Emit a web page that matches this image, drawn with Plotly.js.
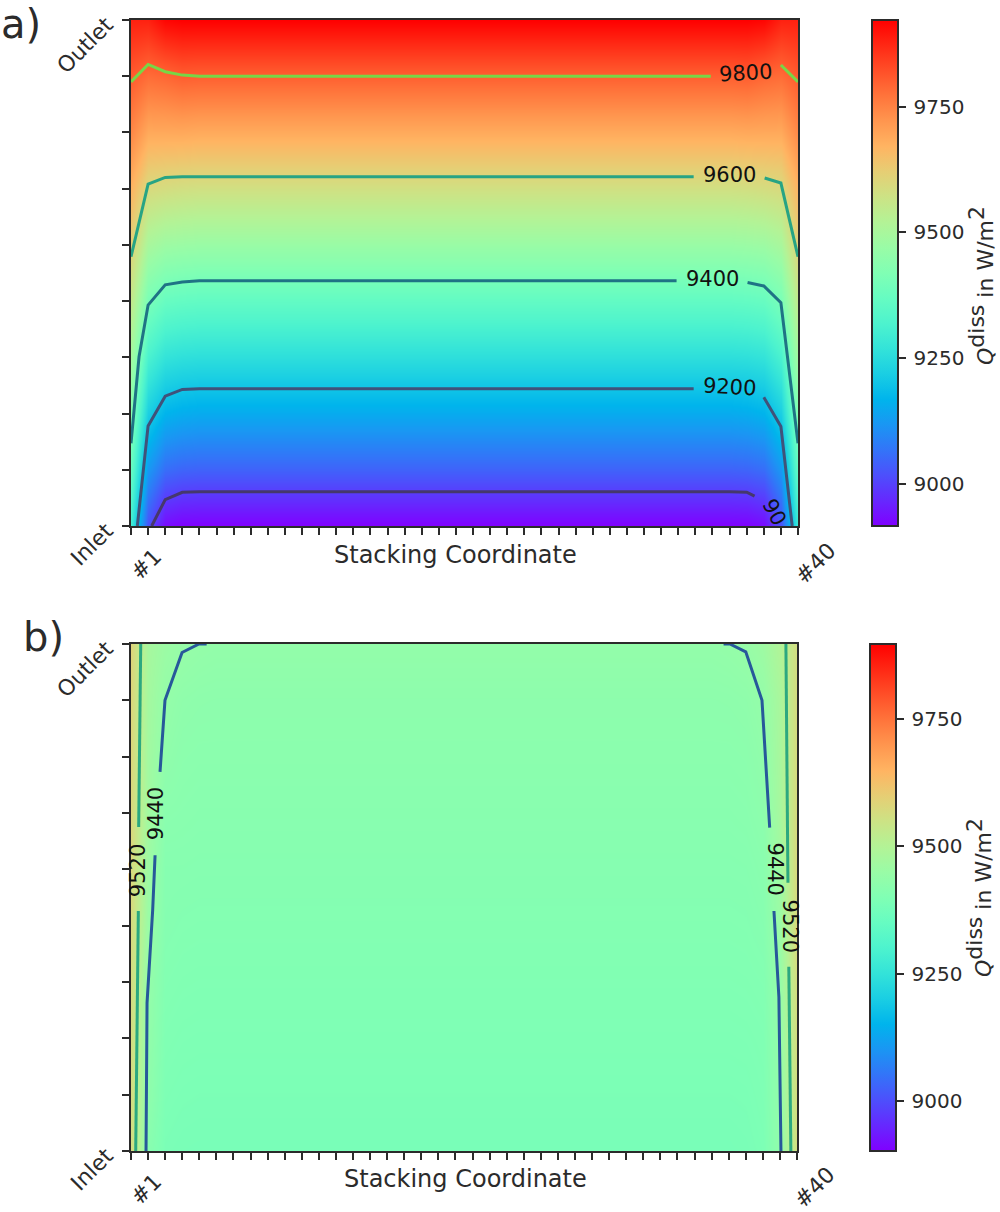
<!DOCTYPE html>
<html>
<head>
<meta charset="utf-8">
<script src="https://cdn.plot.ly/plotly-3.0.1.min.js"></script>
<style>html,body{margin:0;padding:0;background:#fff}#chart{width:1000px;height:1212px}</style>
</head>
<body>
<div id="chart"></div>
<script>
// ---- shared grid ----
const stackColumns = [0,1,2,3,4,5,34,35,36,37,38,39];
const flowRows = [0,1,2,3,4,5,6,7,8,9];
const xMajorTicks = [1];
const xMajorLabels = ["#1"];
const xMinorTicks = [0,2,3,4,5,6,7,8,9,10,11,12,13,14,15,16,17,18,19,20,21,22,23,24,25,26,27,28,29,30,31,32,33,34,35,36,37,38,39];
const yMajorTicks = [0,9];
const yMajorLabels = ["Inlet","Outlet"];
const yMinorTicks = [1,2,3,4,5,6,7,8];
const colorbarTicks = [9000,9250,9500,9750];
const rainbowStops = [
  [0.00,"rgb(128,0,255)"],[0.05,"rgb(102,40,254)"],[0.10,"rgb(77,79,252)"],[0.15,"rgb(51,116,248)"],
  [0.20,"rgb(26,150,243)"],[0.25,"rgb(0,180,236)"],[0.30,"rgb(26,206,227)"],[0.35,"rgb(51,227,217)"],
  [0.40,"rgb(77,243,206)"],[0.45,"rgb(102,252,194)"],[0.50,"rgb(128,255,180)"],[0.55,"rgb(153,252,166)"],
  [0.60,"rgb(179,243,150)"],[0.65,"rgb(204,227,133)"],[0.70,"rgb(230,206,116)"],[0.75,"rgb(255,180,98)"],
  [0.80,"rgb(255,150,79)"],[0.85,"rgb(255,116,59)"],[0.90,"rgb(255,79,40)"],[0.95,"rgb(255,40,20)"],[1.00,"rgb(255,0,0)"]];

// ---- panel a: Q_diss values, one array per row, inlet first ----
const aRow0 = [9295,9020,8930,8918,8917,8917,8917,8917,8918,8930,9020,9295];
const aRow1 = [9370,9122,9058,9046,9043,9043,9043,9043,9046,9058,9122,9370];
const aRow2 = [9431,9220,9167,9156,9152,9152,9152,9152,9156,9167,9220,9431];
const aRow3 = [9491,9315,9270,9261,9258,9258,9258,9258,9261,9270,9315,9491];
const aRow4 = [9552,9407,9372,9365,9362,9362,9362,9362,9365,9372,9407,9552];
const aRow5 = [9613,9500,9478,9473,9470,9470,9470,9470,9473,9478,9500,9613];
const aRow6 = [9671,9592,9585,9580,9577,9577,9577,9577,9580,9585,9592,9671];
const aRow7 = [9743,9690,9690,9691,9688,9688,9688,9688,9691,9690,9690,9743];
const aRow8 = [9806,9782,9790,9802,9800,9800,9800,9800,9802,9790,9782,9806];
const aRow9 = [9880,9880,9915,9922,9922,9922,9922,9922,9922,9915,9880,9880];
const aZRange = [8917,9922];

// ---- panel a: contour lines (null marks the gap at a label) ----
const a9000x = [1.21,2,3,4,35,36,36.46];
const a9000y = [0,0.47,0.6,0.61,0.61,0.6,0.53];
const a9200x = [0.37,1,2,3,4,32.9,null,37,38,38.66];
const a9200y = [0,1.78,2.31,2.43,2.44,2.44,null,2.29,1.77,0];
const a9400x = [0,0.47,1,2,3,4,31.9,null,36.05,37,38,38.4,39];
const a9400y = [1.47,3.01,3.93,4.29,4.34,4.36,4.36,null,4.33,4.27,3.97,3,1.47];
const a9600x = [0,1,2,3,32.9,null,37.05,38,39];
const a9600y = [4.79,6.08,6.2,6.21,6.21,null,6.19,6.1,4.79];
const a9800x = [0,1,2,3,4,33.9,null,38,39];
const a9800y = [7.9,8.21,8.08,8.02,8,8,null,8.2,7.9];
const aLabelText = ["9800","9600","9400","9200","90"];
const aLabelX = [35.95,35,34,35,37.6];
const aLabelY = [8.05,6.24,4.39,2.47,0.25];
const aLabelAngle = [-3,0,0,3,62];

// ---- panel b: Q_diss values, one array per row, inlet first ----
const bRow0 = [9564,9416,9390,9387,9386,9386,9386,9386,9388,9393,9435,9565];
const bRow1 = [9565,9430,9395,9392,9391,9391,9391,9391,9392,9397,9437,9568];
const bRow2 = [9565,9436,9400,9397,9396,9396,9396,9396,9397,9400,9440,9568];
const bRow3 = [9565,9440,9405,9402,9401,9401,9401,9401,9402,9405,9444,9570];
const bRow4 = [9570,9450,9410,9407,9406,9406,9406,9406,9407,9412,9453,9575];
const bRow5 = [9575,9458,9412,9412,9411,9411,9411,9411,9412,9418,9462,9578];
const bRow6 = [9575,9465,9420,9418,9416,9416,9416,9416,9418,9425,9475,9575];
const bRow7 = [9578,9466,9431,9423,9421,9421,9421,9421,9423,9432,9478,9572];
const bRow8 = [9580,9470,9440,9430,9427,9426,9426,9427,9430,9440,9480,9570];
const bRow9 = [9585,9475,9455,9445,9440,9437,9437,9440,9445,9460,9495,9565];
const bZRange = [8901,9898];

// ---- panel b: contour lines ----
const b9440x = [0.88,0.94,1.27,1.41,null,1.7,1.99,2.99,3.98,4.43,null,34.7,35.07,36,36.95,37.4,null,37.65,37.94,38.06];
const b9440y = [0,2.63,4.28,5.25,null,6.73,8,8.85,9,9,null,9,9,8.86,8,5.74,null,4.26,2.73,0];
const b9520x = [0.275,0.43,null,0.45,0.57,null,38.35,38.47,null,38.52,38.64];
const b9520y = [0,4.26,null,5.75,9,null,9,4.76,null,3.27,0];
const bLabelText = ["9440","9520","9440","9520"];
const bLabelX = [1.47,0.42,37.7,38.57];
const bLabelY = [5.98,4.97,5.0,3.99];
const bLabelAngle = [-90,-90,90,90];

// ---- layout constants ----
const W = 1000, H = 1212;
const px = v => v / W;
const py = v => 1 - v / H;
const FONT = "DejaVu Sans, sans-serif";
const INK = "#2b2b2b";
const lineColors = {
  c9000:"#46386c", c9200:"#40527a", c9400:"#1f7385",
  c9600:"#27a484", c9800:"#78d646",
  c9440:"#27589a", c9520:"#2ca880"
};

function heat(rows, zr, xa, ya, cbX, cbY, cbLen){
  return {type:"heatmap", x:stackColumns, y:flowRows, z:rows, zmin:zr[0], zmax:zr[1], zsmooth:"best",
    colorscale:rainbowStops, xaxis:xa, yaxis:ya, hoverinfo:"skip",
    colorbar:{x:px(cbX), xanchor:"left", xpad:0, ypad:0, y:py(cbY), yanchor:"middle", lenmode:"pixels", len:cbLen,
      thicknessmode:"pixels", thickness:26, outlinecolor:INK, outlinewidth:2, ticks:"outside", ticklen:7, tickwidth:2,
      tickcolor:INK, tickvals:colorbarTicks, ticktext:colorbarTicks.map(v=>"\u2009"+v), tickfont:{family:FONT,size:20,color:INK}}};
}
function line(x,y,color,xa,ya){
  return {type:"scatter", mode:"lines", x:x, y:y, xaxis:xa, yaxis:ya, hoverinfo:"skip", showlegend:false,
    connectgaps:false, line:{color:color,width:3,shape:"linear"}};
}
function xAxis(anchor,l,r){
  return {domain:[px(l),px(r)], anchor:anchor, range:[0,39], tickmode:"array", tickvals:xMajorTicks, ticktext:xMajorLabels,
    tickangle:-45, ticklabelshift:7, ticks:"outside", ticklen:7, tickwidth:2, tickcolor:INK,
    minor:{tickmode:"array", tickvals:xMinorTicks, ticks:"outside", ticklen:7, tickwidth:2, tickcolor:INK, showgrid:false},
    showline:true, linecolor:INK, linewidth:2, mirror:true, showgrid:false, zeroline:false,
    tickfont:{family:FONT,size:22,color:INK}};
}
function yAxis(anchor,t,b){
  return {domain:[py(b),py(t)], anchor:anchor, range:[0,9], tickmode:"array", tickvals:yMajorTicks, ticktext:yMajorLabels,
    tickangle:-45, ticklabelstandoff:11, ticklabelshift:2, ticks:"outside", ticklen:7, tickwidth:2, tickcolor:INK,
    minor:{tickmode:"array", tickvals:yMinorTicks, ticks:"outside", ticklen:7, tickwidth:2, tickcolor:INK, showgrid:false},
    showline:true, linecolor:INK, linewidth:2, mirror:true, showgrid:false, zeroline:false,
    tickfont:{family:FONT,size:22,color:INK}};
}
function paperText(text,x,y,size,angle){
  return {text:text, xref:"paper", yref:"paper", x:px(x), y:py(y), xanchor:"center", yanchor:"middle", showarrow:false,
    textangle:angle||0, font:{family:FONT,size:size,color:INK}};
}
function contourLabels(texts,xs,ys,angles,xa,ya){
  return texts.map((t,i)=>({text:t, xref:xa, yref:ya, x:xs[i], y:ys[i], xanchor:"center", yanchor:"middle", showarrow:false,
    textangle:angles[i], font:{family:FONT,size:21,color:"#111"}}));
}

const supSize = '<span style="font-size:22px">';
const cbTitle = "<i>Q</i><sup>"+supSize+"diss</span></sup> in W/m<sup>"+supSize+"2</span></sup>";
const traces = [
  heat([aRow0,aRow1,aRow2,aRow3,aRow4,aRow5,aRow6,aRow7,aRow8,aRow9], aZRange, "x","y", 872, 273, 506),
  line(a9000x,a9000y,lineColors.c9000,"x","y"),
  line(a9200x,a9200y,lineColors.c9200,"x","y"),
  line(a9400x,a9400y,lineColors.c9400,"x","y"),
  line(a9600x,a9600y,lineColors.c9600,"x","y"),
  line(a9800x,a9800y,lineColors.c9800,"x","y"),
  heat([bRow0,bRow1,bRow2,bRow3,bRow4,bRow5,bRow6,bRow7,bRow8,bRow9], bZRange, "x2","y2", 870, 897.5, 507),
  line(b9440x,b9440y,lineColors.c9440,"x2","y2"),
  line(b9520x,b9520y,lineColors.c9520,"x2","y2")
];
const layout = {
  width:W, height:H, margin:{l:0,r:0,t:0,b:0}, paper_bgcolor:"#fff", plot_bgcolor:"#fff", showlegend:false,
  xaxis:xAxis("y",131,798), yaxis:yAxis("x",20,526),
  xaxis2:xAxis("y2",131,797), yaxis2:yAxis("x2",644,1151),
  annotations:[
    paperText("a)",21,24,40), paperText("b)",43,637,40),
    paperText("Stacking Coordinate",455,555,24), paperText("Stacking Coordinate",465,1179,24),
    paperText("#40",815,563,22,-45), paperText("#40",814,1187,22,-45),
    paperText(cbTitle,981,286,22,-90), paperText(cbTitle,979,898,22,-90),
    ...contourLabels(aLabelText,aLabelX,aLabelY,aLabelAngle,"x","y"),
    ...contourLabels(bLabelText,bLabelX,bLabelY,bLabelAngle,"x2","y2")
  ]
};
Plotly.newPlot("chart",traces,layout,{displayModeBar:false,staticPlot:true});
</script>
</body>
</html>
